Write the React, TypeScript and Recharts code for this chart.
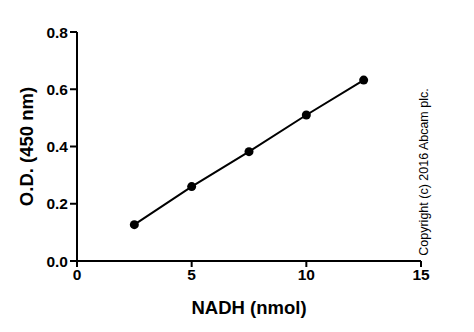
import { LineChart, Line, XAxis, YAxis } from 'recharts';

const nadh = [2.5, 5, 7.5, 10, 12.5];
const od = [0.127, 0.26, 0.382, 0.51, 0.632];
const xTicks = [0, 5, 10, 15];
const yTicks = [0, 0.2, 0.4, 0.6, 0.8];

const data = nadh.map((x, i) => ({ x, y: od[i] }));

const FONT = '"Liberation Sans", Arial, sans-serif';
const tickStyle = { fontSize: 15.5, fontWeight: 'bold', fill: '#000', fontFamily: FONT };
const titleStyle = { ...tickStyle, fontSize: 18.5 };

export default function App() {
  return (
    <div style={{ position: 'absolute', left: 0, top: 0, width: 474, height: 332, background: '#fff' }}>
      <LineChart width={474} height={332} data={data} margin={{ top: 32, right: 53, bottom: 16, left: 0 }}>
        <XAxis
          dataKey="x"
          type="number"
          domain={[0, 15]}
          ticks={xTicks}
          height={55}
          tickSize={6}
          tickMargin={2}
          axisLine={{ stroke: '#000', strokeWidth: 2 }}
          tickLine={{ stroke: '#000', strokeWidth: 2 }}
          tick={tickStyle}
          label={{ value: 'NADH (nmol)', position: 'insideBottom', offset: 2, style: titleStyle }}
        />
        <YAxis
          type="number"
          domain={[0, 0.8]}
          ticks={yTicks}
          width={77}
          tickSize={7}
          tickMargin={2}
          tickFormatter={(v: number) => v.toFixed(1)}
          axisLine={{ stroke: '#000', strokeWidth: 2 }}
          tickLine={{ stroke: '#000', strokeWidth: 2 }}
          tick={tickStyle}
          label={{
            value: 'O.D. (450 nm)',
            angle: -90,
            position: 'insideLeft',
            offset: 26,
            style: { ...titleStyle, textAnchor: 'middle' },
          }}
        />
        <Line
          dataKey="y"
          stroke="#000"
          strokeWidth={2}
          dot={{ r: 4.5, fill: '#000', stroke: '#000', strokeWidth: 0 }}
          isAnimationActive={false}
        />
      </LineChart>
      <div
        style={{
          position: 'absolute',
          left: 424,
          top: 172,
          transform: 'translate(-50%, -50%) rotate(-90deg)',
          whiteSpace: 'nowrap',
          fontFamily: FONT,
          fontSize: 12.5,
          color: '#000',
        }}
      >
        Copyright (c) 2016 Abcam plc.
      </div>
    </div>
  );
}
